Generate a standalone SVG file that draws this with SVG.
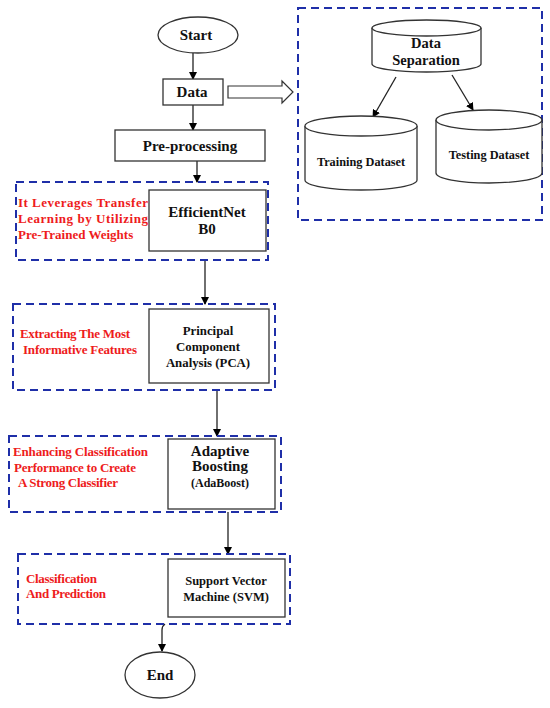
<svg xmlns="http://www.w3.org/2000/svg" width="550" height="708" viewBox="0 0 550 708">
<defs>
<marker id="ah" markerWidth="8" markerHeight="8" refX="7" refY="4" orient="auto" markerUnits="userSpaceOnUse">
<path d="M0,0 L8,4 L0,8 Z" fill="#000"/>
</marker>
<style>
.b{fill:#fff;stroke:#333;stroke-width:1.3}
.d{fill:none;stroke:#1f2fa8;stroke-width:2;stroke-dasharray:8,5}
.t{font-family:"Liberation Serif","Times New Roman",serif;font-weight:bold;fill:#111;text-anchor:middle}
.r{font-family:"Liberation Serif","Times New Roman",serif;font-weight:bold;fill:#ee1c1c;font-size:13px}
.c{stroke:#222;stroke-width:1.3;fill:none}
</style>
</defs>
<rect width="550" height="708" fill="#fff"/>

<g id="connectors">
<line class="c" x1="193" y1="53" x2="193" y2="79" marker-end="url(#ah)"/>
<line class="c" x1="193" y1="105" x2="193" y2="130" marker-end="url(#ah)"/>
<line class="c" x1="197" y1="161" x2="197" y2="182" marker-end="url(#ah)"/>
<line class="c" x1="205" y1="260" x2="205" y2="304" marker-end="url(#ah)"/>
<line class="c" x1="217" y1="390" x2="217" y2="436" marker-end="url(#ah)"/>
<line class="c" x1="228" y1="512" x2="228" y2="554" marker-end="url(#ah)"/>
<path class="c" d="M165,624 Q162,626 162,630 L162,651" marker-end="url(#ah)"/>
<line class="c" x1="396" y1="77" x2="373" y2="117" marker-end="url(#ah)"/>
<line class="c" x1="452" y1="75" x2="473" y2="110" marker-end="url(#ah)"/>
<path d="M228,86 L282,86 L282,81 L293,92 L282,103 L282,98 L228,98 Z" fill="#fff" stroke="#333" stroke-width="1.2"/>
</g>

<g id="start">
<ellipse class="b" cx="198" cy="35" rx="40" ry="18"/>
<text class="t" x="196" y="40" font-size="15">Start</text>
</g>

<g id="data">
<rect class="b" x="163" y="79" width="60" height="26"/>
<text class="t" x="192" y="97" font-size="15">Data</text>
</g>

<g id="preprocessing">
<rect class="b" x="115" y="130" width="150" height="31"/>
<text class="t" x="190" y="151" font-size="15">Pre-processing</text>
</g>

<g id="separation-group">
<rect class="d" x="298" y="8" width="244" height="212"/>
</g>

<g id="data-separation">
<path class="b" d="M372,28 L372,64 A54.5,8 0 0 0 481,64 L481,28"/>
<ellipse class="b" cx="426.5" cy="28" rx="54.5" ry="8"/>
<text class="t" x="426" y="48" font-size="14.5">Data</text>
<text class="t" x="426" y="65" font-size="14.5">Separation</text>
</g>

<g id="training-dataset">
<path class="b" d="M305,126 L305,180 A56,10 0 0 0 417,180 L417,126"/>
<ellipse class="b" cx="361" cy="126" rx="56" ry="10"/>
<text class="t" x="361" y="166" font-size="12.3">Training Dataset</text>
</g>

<g id="testing-dataset">
<path class="b" d="M436,120 L436,173 A53,10 0 0 0 542,173 L542,120"/>
<ellipse class="b" cx="489" cy="120" rx="53" ry="10"/>
<text class="t" x="489" y="159" font-size="12.3">Testing Dataset</text>
</g>

<g id="efficientnet">
<rect class="d" x="16" y="182" width="252" height="78"/>
<rect class="b" x="149" y="190" width="117" height="61"/>
<text class="t" x="207" y="217" font-size="15">EfficientNet</text>
<text class="t" x="207" y="234" font-size="15">B0</text>
<text class="r" x="18" y="207" textLength="130" lengthAdjust="spacing">It Leverages Transfer</text>
<text class="r" x="18" y="223" textLength="130" lengthAdjust="spacing">Learning by Utilizing</text>
<text class="r" x="18" y="239">Pre-Trained Weights</text>
</g>

<g id="pca">
<rect class="d" x="13" y="304" width="262" height="86"/>
<rect class="b" x="149" y="309" width="120" height="74"/>
<text class="t" x="208" y="335" font-size="12.8">Principal</text>
<text class="t" x="208" y="351" font-size="12.8">Component</text>
<text class="t" x="208" y="367" font-size="12.8">Analysis (PCA)</text>
<text class="r" x="20" y="338" textLength="110" lengthAdjust="spacing">Extracting The Most</text>
<text class="r" x="23" y="354" textLength="114" lengthAdjust="spacing">Informative Features</text>
</g>

<g id="adaboost">
<rect class="d" x="9" y="436" width="272" height="76"/>
<rect class="b" x="168" y="439" width="107" height="70"/>
<text class="t" x="220" y="456" font-size="15">Adaptive</text>
<text class="t" x="220" y="471" font-size="15">Boosting</text>
<text class="t" x="220" y="487" font-size="12">(AdaBoost)</text>
<text class="r" x="13" y="456" textLength="135" lengthAdjust="spacing">Enhancing Classification</text>
<text class="r" x="14" y="472" textLength="122" lengthAdjust="spacing">Performance to Create</text>
<text class="r" x="18" y="487" textLength="100" lengthAdjust="spacing">A Strong Classifier</text>
</g>

<g id="svm">
<rect class="d" x="18" y="554" width="272" height="70"/>
<rect class="b" x="168" y="559" width="117" height="58"/>
<text class="t" x="226" y="585" font-size="12.5">Support Vector</text>
<text class="t" x="226" y="601" font-size="12.5">Machine (SVM)</text>
<text class="r" x="26" y="583" textLength="71" lengthAdjust="spacing">Classification</text>
<text class="r" x="26" y="598" textLength="80" lengthAdjust="spacing">And Prediction</text>
</g>

<g id="end">
<ellipse class="b" cx="160" cy="675" rx="35" ry="23"/>
<text class="t" x="160" y="680" font-size="15">End</text>
</g>
</svg>
